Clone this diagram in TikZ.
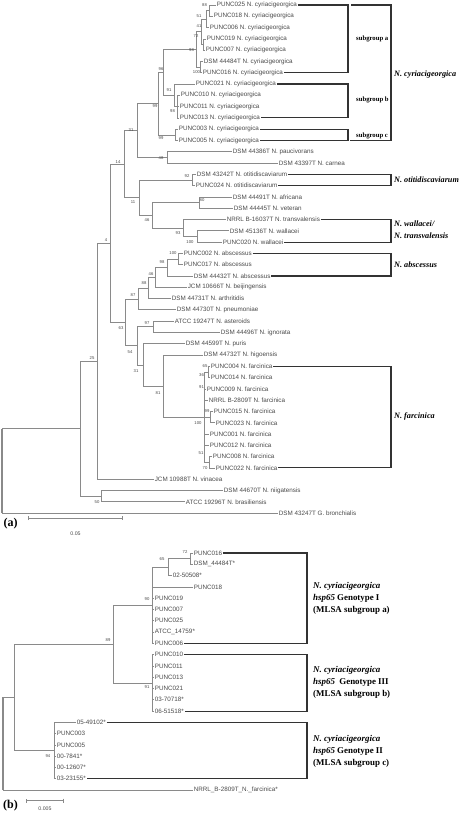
\documentclass[tikz,border=0pt]{standalone}
\usepackage{fontspec}
\setmainfont{Liberation Serif}
\setsansfont{Liberation Sans}
\usetikzlibrary{arrows.meta,positioning,calc}
\definecolor{treeline}{HTML}{8A8A8A}
\definecolor{treetext}{HTML}{4A4A4A}
\definecolor{boxline}{HTML}{333333}

\begin{document}
\begin{tikzpicture}[x=1pt, y=-1pt,
  leaf/.style={anchor=west, inner sep=0.6pt, font=\sffamily\fontsize{6.3}{6.3}\selectfont, text=treetext},
  bs/.style={inner sep=0pt, font=\sffamily\fontsize{4.2}{4.2}\selectfont, text=treetext},
  br/.style={draw=treeline, line width=0.7pt},
  rootline/.style={draw=treeline, line width=1.6pt},
  grp/.style={draw=boxline, line width=1.1pt},
  clade/.style={anchor=west, inner sep=0pt, font=\fontsize{8.2}{12}\selectfont\bfseries\itshape, align=left},
  subgrp/.style={anchor=west, inner sep=0pt, font=\fontsize{6.7}{8}\selectfont\bfseries},
  geno/.style={anchor=west, inner sep=0pt, font=\fontsize{8.9}{12}\selectfont\bfseries, align=left},
  panel/.style={inner sep=0pt, font=\fontsize{12}{12}\selectfont\bfseries},
  scalelab/.style={inner sep=0pt, font=\sffamily\fontsize{5.2}{5.2}\selectfont, text=treetext},
]
\fill[white] (0,0) rectangle (474,814);
\useasboundingbox (0,0) rectangle (474,814);

% ---------- (a) leaves
\node[leaf] (a1) at (216,5.0) {PUNC025 N. cyriacigeorgica};
\node[leaf] (a2) at (213,16.3) {PUNC018 N. cyriacigeorgica};
\node[leaf] (a3) at (209,27.6) {PUNC006 N. cyriacigeorgica};
\node[leaf] (a4) at (206,38.9) {PUNC019 N. cyriacigeorgica};
\node[leaf] (a5) at (205,50.2) {PUNC007 N. cyriacigeorgica};
\node[leaf] (a6) at (203,61.5) {DSM 44484T N. cyriacigeorgica};
\node[leaf] (a7) at (202,72.7) {PUNC016 N. cyriacigeorgica};
\node[leaf] (a8) at (195,84.0) {PUNC021 N. cyriacigeorgica};
\node[leaf] (a9) at (180,95.3) {PUNC010 N. cyriacigeorgica};
\node[leaf] (a10) at (179,106.6) {PUNC011 N. cyriacigeorgica};
\node[leaf] (a11) at (179,117.9) {PUNC013 N. cyriacigeorgica};
\node[leaf] (a12) at (178,129.2) {PUNC003 N. cyriacigeorgica};
\node[leaf] (a13) at (178,140.5) {PUNC005 N. cyriacigeorgica};
\node[leaf] (a14) at (232,151.8) {DSM 44386T N. paucivorans};
\node[leaf] (a15) at (278,163.1) {DSM 43397T N. carnea};
\node[leaf] (a16) at (196,174.4) {DSM 43242T N. otitidiscaviarum};
\node[leaf] (a17) at (195,185.6) {PUNC024 N. otitidiscaviarum};
\node[leaf] (a18) at (232,196.9) {DSM 44491T N. africana};
\node[leaf] (a19) at (233,208.2) {DSM 44445T N. veteran};
\node[leaf] (a20) at (226,219.5) {NRRL B-16037T N. transvalensis};
\node[leaf] (a21) at (229,230.8) {DSM 45136T N. wallacei};
\node[leaf] (a22) at (222,242.1) {PUNC020 N. wallacei};
\node[leaf] (a23) at (183,253.4) {PUNC002 N. abscessus};
\node[leaf] (a24) at (183,264.7) {PUNC017 N. abscessus};
\node[leaf] (a25) at (193,276.0) {DSM 44432T N. abscessus};
\node[leaf] (a26) at (187,287.3) {JCM 10666T N. beijingensis};
\node[leaf] (a27) at (171,298.6) {DSM 44731T N. arthritidis};
\node[leaf] (a28) at (176,309.8) {DSM 44730T N. pneumoniae};
\node[leaf] (a29) at (174,321.1) {ATCC 19247T N. asteroids};
\node[leaf] (a30) at (220,332.4) {DSM 44496T N. ignorata};
\node[leaf] (a31) at (185,343.7) {DSM 44599T N. puris};
\node[leaf] (a32) at (203,355.0) {DSM 44732T N. higoensis};
\node[leaf] (a33) at (210,366.3) {PUNC004 N. farcinica};
\node[leaf] (a34) at (210,377.6) {PUNC014 N. farcinica};
\node[leaf] (a35) at (206,388.9) {PUNC009 N. farcinica};
\node[leaf] (a36) at (208,400.2) {NRRL B-2809T N. farcinica};
\node[leaf] (a37) at (213,411.5) {PUNC015 N. farcinica};
\node[leaf] (a38) at (215,422.8) {PUNC023 N. farcinica};
\node[leaf] (a39) at (209,434.1) {PUNC001 N. farcinica};
\node[leaf] (a40) at (209,445.4) {PUNC012 N. farcinica};
\node[leaf] (a41) at (212,456.7) {PUNC008 N. farcinica};
\node[leaf] (a42) at (215,467.9) {PUNC022 N. farcinica};
\node[leaf] (a43) at (154,479.2) {JCM 10988T N. vinacea};
\node[leaf] (a44) at (223,490.5) {DSM 44670T N. niigatensis};
\node[leaf] (a45) at (185,501.8) {ATCC 19296T N. brasiliensis};
\node[leaf] (a46) at (278,513.1) {DSM 43247T G. bronchialis};

% ---------- (a) internal nodes
\coordinate (u88) at (209,10.7);
\coordinate (u51) at (206,19.1);
\coordinate (u72) at (203,44.5);
\coordinate (u41) at (201,31.8);
\coordinate (u100a) at (200,67.1);
\coordinate (u98a) at (196,49.5);
\coordinate (u98b) at (177,106.6);
\coordinate (u91) at (174,95.3);
\coordinate (u96) at (163,72.4);
\coordinate (u99c) at (175,134.9);
\coordinate (u99h) at (158,103.6);
\coordinate (u48) at (167,157.5);
\coordinate (u31a) at (137,130.6);
\coordinate (u92) at (192,180.0);
\coordinate (u80) at (199,202.6);
\coordinate (u100w) at (197,236.5);
\coordinate (u93) at (183,228.0);
\coordinate (u46a) at (152,215.3);
\coordinate (u11) at (139,197.7);
\coordinate (u14) at (124,164.2);
\coordinate (u100b) at (178,259.1);
\coordinate (u98c) at (167,267.5);
\coordinate (u46b) at (155,277.4);
\coordinate (u88b) at (148,288.0);
\coordinate (u87) at (138,298.9);
\coordinate (u97) at (153,326.8);
\coordinate (u65) at (208,372.0);
\coordinate (u99f) at (210,417.2);
\coordinate (u70) at (209,462.3);
\coordinate (u100f) at (204,417.2);
\coordinate (u81) at (163,386.1);
\coordinate (u31b) at (143,364.9);
\coordinate (u54) at (137,345.8);
\coordinate (u63) at (125,322.4);
\coordinate (u4) at (110,243.3);
\coordinate (u25) at (97,361.2);
\coordinate (u50) at (101,496.2);
\coordinate (uA) at (80,428.7);
\coordinate (uR) at (2,470.9);

% ---------- (a) branches
\draw[br] (u88) |- (a1.west) (u88) |- (a2.west);
\draw[br] (u51) |- (u88) (u51) |- (a3.west);
\draw[br] (u72) |- (a4.west) (u72) |- (a5.west);
\draw[br] (u41) |- (u51) (u41) |- (u72);
\draw[br] (u100a) |- (a6.west) (u100a) |- (a7.west);
\draw[br] (u98a) |- (u41) (u98a) |- (u100a);
\draw[br] (u98b) |- (a9.west) (u98b) |- (a10.west) (u98b) |- (a11.west);
\draw[br] (u91) |- (a8.west) (u91) |- (u98b);
\draw[br] (u96) |- (u98a) (u96) |- (u91);
\draw[br] (u99c) |- (a12.west) (u99c) |- (a13.west);
\draw[br] (u99h) |- (u96) (u99h) |- (u99c);
\draw[br] (u48) |- (a14.west) (u48) |- (a15.west);
\draw[br] (u31a) |- (u99h) (u31a) |- (u48);
\draw[br] (u92) |- (a16.west) (u92) |- (a17.west);
\draw[br] (u80) |- (a18.west) (u80) |- (a19.west);
\draw[br] (u100w) |- (a21.west) (u100w) |- (a22.west);
\draw[br] (u93) |- (a20.west) (u93) |- (u100w);
\draw[br] (u46a) |- (u80) (u46a) |- (u93);
\draw[br] (u11) |- (u92) (u11) |- (u46a);
\draw[br] (u14) |- (u31a) (u14) |- (u11);
\draw[br] (u100b) |- (a23.west) (u100b) |- (a24.west);
\draw[br] (u98c) |- (u100b) (u98c) |- (a25.west);
\draw[br] (u46b) |- (u98c) (u46b) |- (a26.west);
\draw[br] (u88b) |- (u46b) (u88b) |- (a27.west);
\draw[br] (u87) |- (u88b) (u87) |- (a28.west);
\draw[br] (u97) |- (a29.west) (u97) |- (a30.west);
\draw[br] (u65) |- (a33.west) (u65) |- (a34.west);
\draw[br] (u99f) |- (a37.west) (u99f) |- (a38.west);
\draw[br] (u70) |- (a41.west) (u70) |- (a42.west);
\draw[br] (u100f) |- (u65) (u100f) |- (a35.west) (u100f) |- (a36.west) (u100f) |- (u99f)
  (u100f) |- (a39.west) (u100f) |- (a40.west) (u100f) |- (u70);
\draw[br] (u81) |- (a32.west) (u81) |- (u100f);
\draw[br] (u31b) |- (a31.west) (u31b) |- (u81);
\draw[br] (u54) |- (u97) (u54) |- (u31b);
\draw[br] (u63) |- (u87) (u63) |- (u54);
\draw[br] (u4) |- (u14) (u4) |- (u63);
\draw[br] (u25) |- (u4) (u25) |- (a43.west);
\draw[br] (u50) |- (a44.west) (u50) |- (a45.west);
\draw[br] (uA) |- (u25) (uA) |- (u50);
\draw[br] (uR) |- (uA) (uR) |- (a46.west);
\draw[rootline] (uR |- uA) -- (uR |- a46.west);

% ---------- (a) bootstrap values
\node[bs] (k88a) at (204.5,5.5) {88};
\node[bs] (k51a) at (199,16) {51};
\node[bs] (k41) at (199,26.5) {41};
\node[bs] (k72a) at (196,36) {72};
\node[bs] (k98a) at (191.5,50) {98};
\node[bs] (k100a) at (196.5,72.5) {100};
\node[bs] (k96) at (161,69.5) {96};
\node[bs] (k91a) at (169,90.5) {91};
\node[bs] (k99h) at (155,106) {99};
\node[bs] (k98b) at (172.5,111) {98};
\node[bs] (k99c) at (161,138.5) {99};
\node[bs] (k31a) at (131,130) {31};
\node[bs] (k48) at (161,158) {48};
\node[bs] (k92) at (187,176) {92};
\node[bs] (k14) at (118,162) {14};
\node[bs] (k11) at (133,202.5) {11};
\node[bs] (k80) at (202,200) {80};
\node[bs] (k46a) at (147,220) {46};
\node[bs] (k93) at (178,233) {93};
\node[bs] (k100w) at (190,242) {100};
\node[bs] (k4) at (106,240) {4};
\node[bs] (k100b) at (173,253) {100};
\node[bs] (k98c) at (162,262) {98};
\node[bs] (k46b) at (151,274.5) {46};
\node[bs] (k88b) at (144,283) {88};
\node[bs] (k87) at (133,295) {87};
\node[bs] (k63) at (121,328) {63};
\node[bs] (k97) at (147,323) {97};
\node[bs] (k54) at (130,352) {54};
\node[bs] (k31b) at (136,371) {31};
\node[bs] (k81) at (158,393) {81};
\node[bs] (k65a) at (205,366) {65};
\node[bs] (k36) at (201.5,375) {36};
\node[bs] (k91b) at (201.5,387) {91};
\node[bs] (k99f) at (207,411.5) {99};
\node[bs] (k100f) at (198,423) {100};
\node[bs] (k51b) at (201,453) {51};
\node[bs] (k70) at (205,468) {70};
\node[bs] (k25) at (92,358) {25};
\node[bs] (k50) at (97,502) {50};

% ---------- (a) groups
\coordinate (sx) at (348,0);
\coordinate (cx) at (391,0);
\draw[grp] (a1.east) -- (a1.east -| sx) -- (a7.east -| sx) -- (a7.east);
\draw[grp] (a8.east) -- (a8.east -| sx) -- (a11.east -| sx) -- (a11.east);
\draw[grp] (a12.east) -- (a12.east -| sx) -- (a13.east -| sx) -- (a13.east);
\coordinate (cyrT) at (351,5.0);
\coordinate (cyrB) at (350,140.5);
\draw[grp] (cyrT) -- (cyrT -| cx) -- (cyrB -| cx) -- (cyrB);
\draw[grp] (a16.east) -- (a16.east -| cx) -- (a17.east -| cx) -- (a17.east);
\draw[grp] (a20.east) -- (a20.east -| cx) -- (a22.east -| cx) -- (a22.east);
\draw[grp] (a23.east) -- (a23.east -| cx) -- (a25.east -| cx) -- (a25.east);
\draw[grp] (a33.east) -- (a33.east -| cx) -- (a42.east -| cx) -- (a42.east);

\node[subgrp] (sga) at (356,39) {subgroup a};
\node[subgrp] (sgb) at (356,100) {subgroup b};
\node[subgrp] (sgc) at (356,136) {subgroup c};
\node[clade] (cyr) at (394,75) {N. cyriacigeorgica};
\node[clade] (oti) at (394,180) {N. otitidiscaviarum};
\node[clade] (wal) at (394,230) {N. wallacei/\\N. transvalensis};
\node[clade] (abs) at (394,265) {N. abscessus};
\node[clade] (far) at (394,416) {N. farcinica};

% scale bar (a)
\coordinate (sa0) at (28,518);
\coordinate (sa1) at (123,518);
\draw[br, {Bar[width=4pt]}-{Bar[width=4pt]}] (sa0) -- (sa1);
\node[scalelab] (sal) at (75.5,534) {0.05};
\node[panel] (pa) at (10.5,524) {(a)};

% ---------- (b) leaves
\node[leaf] (b1) at (193,553.0) {PUNC016};
\node[leaf] (b2) at (193,564.3) {DSM\_44484T*};
\node[leaf] (b3) at (172,575.6) {02-50508*};
\node[leaf] (b4) at (193,586.9) {PUNC018};
\node[leaf] (b5) at (154,598.2) {PUNC019};
\node[leaf] (b6) at (154,609.5) {PUNC007};
\node[leaf] (b7) at (154,620.7) {PUNC025};
\node[leaf] (b8) at (154,632.0) {ATCC\_14759*};
\node[leaf] (b9) at (154,643.3) {PUNC006};
\node[leaf] (b10) at (154,654.6) {PUNC010};
\node[leaf] (b11) at (154,665.9) {PUNC011};
\node[leaf] (b12) at (154,677.2) {PUNC013};
\node[leaf] (b13) at (154,688.5) {PUNC021};
\node[leaf] (b14) at (154,699.8) {03-70718*};
\node[leaf] (b15) at (154,711.1) {06-51518*};
\node[leaf] (b16) at (76,722.4) {05-49102*};
\node[leaf] (b17) at (56,733.7) {PUNC003};
\node[leaf] (b18) at (56,745.0) {PUNC005};
\node[leaf] (b19) at (56,756.2) {00-7841*};
\node[leaf] (b20) at (56,767.5) {00-12607*};
\node[leaf] (b21) at (56,778.8) {03-23155*};
\node[leaf] (b22) at (193,790.1) {NRRL\_B-2809T\_N.\_farcinica*};

% ---------- (b) internal nodes
\coordinate (l72) at (190,558.7);
\coordinate (l65) at (168,567.1);
\coordinate (l90) at (152,605.2);
\coordinate (l91) at (152,682.9);
\coordinate (l89) at (113,644.0);
\coordinate (l94) at (54,750.6);
\coordinate (lC) at (14,697.3);
\coordinate (lR) at (3,743.7);

\draw[br] (l72) |- (b1.west) (l72) |- (b2.west);
\draw[br] (l65) |- (l72) (l65) |- (b3.west);
\draw[br] (l90) |- (l65) (l90) |- (b4.west) (l90) |- (b5.west) (l90) |- (b6.west)
  (l90) |- (b7.west) (l90) |- (b8.west) (l90) |- (b9.west);
\draw[br] (l91) |- (b10.west) (l91) |- (b11.west) (l91) |- (b12.west)
  (l91) |- (b13.west) (l91) |- (b14.west) (l91) |- (b15.west);
\draw[br] (l89) |- (l90) (l89) |- (l91);
\draw[br] (l94) |- (b16.west) (l94) |- (b17.west) (l94) |- (b18.west)
  (l94) |- (b19.west) (l94) |- (b20.west) (l94) |- (b21.west);
\draw[br] (lC) |- (l89) (lC) |- (l94);
\draw[br] (lR) |- (lC) (lR) |- (b22.west);
\draw[rootline] (lR |- lC) -- (lR |- b22.west);

\node[bs] (k72b) at (185,552) {72};
\node[bs] (k65b) at (162,559.5) {65};
\node[bs] (k90) at (147,599) {90};
\node[bs] (k89) at (108,640.5) {89};
\node[bs] (k91c) at (147,687) {91};
\node[bs] (k94) at (48,756) {94};

% ---------- (b) genotype boxes
\coordinate (gx) at (307,0);
\draw[grp] (b1.east) -- (b1.east -| gx) -- (b9.east -| gx) -- (b9.east);
\draw[grp] (b10.east) -- (b10.east -| gx) -- (b15.east -| gx) -- (b15.east);
\draw[grp] (b16.east) -- (b16.east -| gx) -- (b21.east -| gx) -- (b21.east);

\node[geno] (gI) at (313,598) {\textit{N. cyriacigeorgica}\\\textit{hsp65} Genotype I\\(MLSA subgroup a)};
\node[geno] (gIII) at (313,682) {\textit{N. cyriacigeorgica}\\\textit{hsp65}\ \ Genotype III\\(MLSA subgroup b)};
\node[geno] (gII) at (313,751) {\textit{N. cyriacigeorgica}\\\textit{hsp65} Genotype II\\(MLSA subgroup c)};

% scale bar (b)
\coordinate (sb0) at (26,800.5);
\coordinate (sb1) at (64,800.5);
\draw[br, {Bar[width=4pt]}-{Bar[width=4pt]}] (sb0) -- (sb1);
\node[scalelab] (sbl) at (45,809) {0.005};
\node[panel] (pb) at (10.5,806) {(b)};
\end{tikzpicture}
\end{document}
